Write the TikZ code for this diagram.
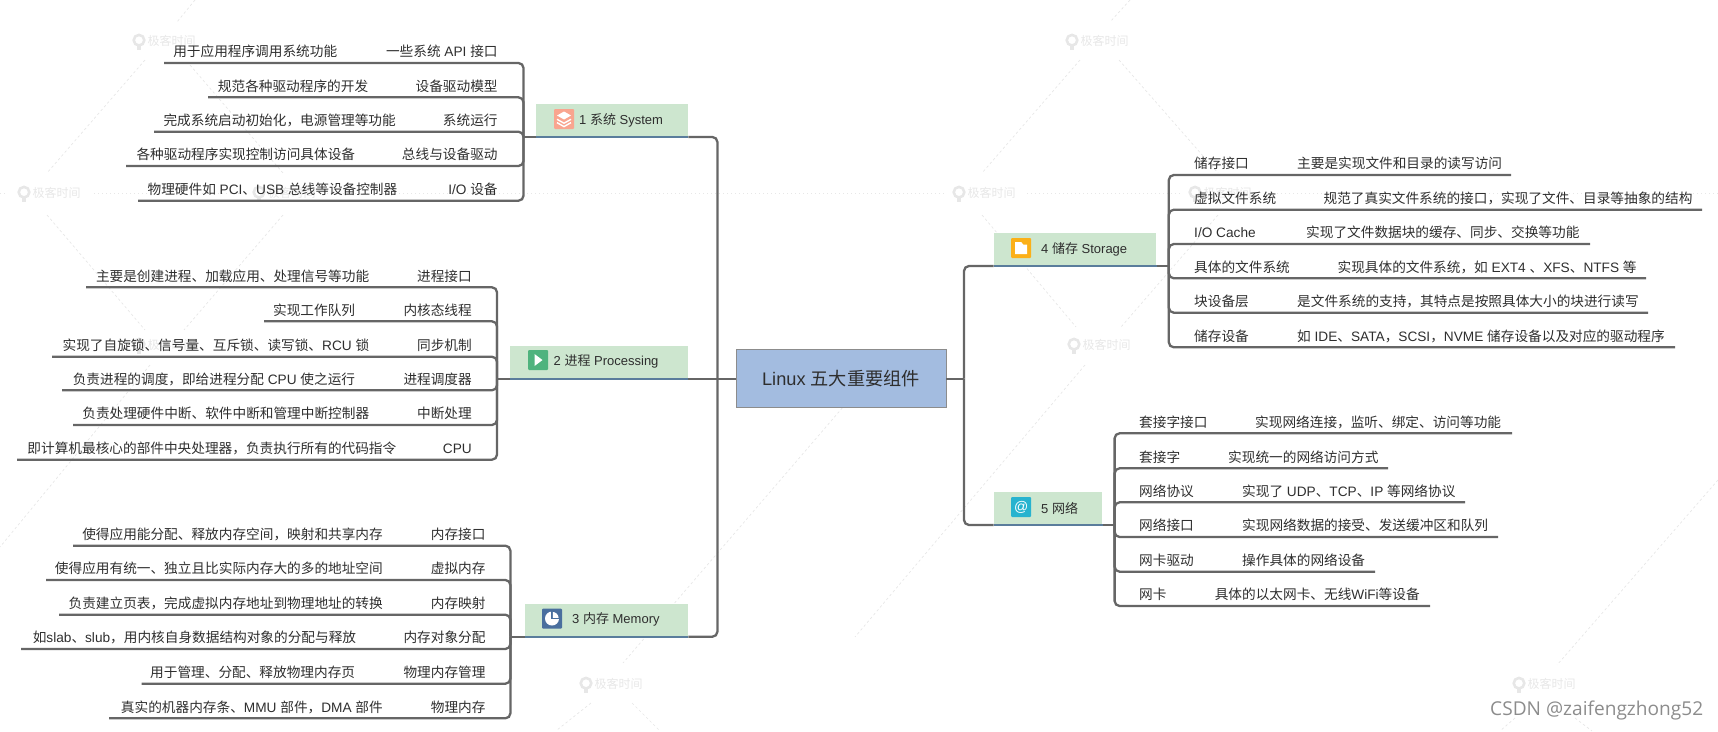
\documentclass[tikz,border=0pt]{standalone}
\usepackage{fontspec}
\setmainfont{Liberation Sans}
\newfontfamily\cjkf{Noto Sans CJK SC}
\newfontfamily\csdnf{Open Sans}
\newXeTeXintercharclass\CJKcl
\newcount\cc
\cc="3000 \loop \XeTeXcharclass\cc=\CJKcl \advance\cc 1 \ifnum\cc<"3040 \repeat
\cc="4E00 \loop \XeTeXcharclass\cc=\CJKcl \advance\cc 1 \ifnum\cc<"A000 \repeat
\cc="FF00 \loop \XeTeXcharclass\cc=\CJKcl \advance\cc 1 \ifnum\cc<"FFF0 \repeat
\XeTeXinterchartoks 0 \CJKcl={\begingroup\cjkf}
\XeTeXinterchartoks 4095 \CJKcl={\begingroup\cjkf}
\XeTeXinterchartoks \CJKcl 0={\endgroup}
\XeTeXinterchartoks \CJKcl 4095={\endgroup}
\XeTeXinterchartokenstate=1
\definecolor{txt}{HTML}{2E2E2E}
\definecolor{lin}{HTML}{666666}
\definecolor{catg}{HTML}{CDE6CF}
\definecolor{catl}{HTML}{5A7D9C}
\definecolor{cen}{HTML}{A3BCE0}
\definecolor{wm}{HTML}{E7E7E7}
\definecolor{pieblue}{RGB}{74,111,158}
\tikzset{
  rowtext/.style={inner sep=0pt,text=txt,font=\fontsize{13.66}{15}\selectfont},
  cattext/.style={inner sep=0pt,anchor=west,text=txt,font=\fontsize{13}{15}\selectfont},
  branch/.style={draw=lin,line width=2.3pt,rounded corners=5pt},
  catbox/.style={inner sep=0pt,fill=catg,anchor=south west,minimum height=33pt},
  catline/.style={draw=catl,line width=2.3pt},
  iconbox/.style={inner sep=0pt,minimum size=20pt,rounded corners=1pt},
  wmtext/.style={inner sep=0pt,anchor=west,text=wm,font=\fontsize{12}{14}\selectfont},
  wmline/.style={draw=wm,line width=0.7pt,dash pattern=on 2.5pt off 2.5pt},
  wmdots/.style={draw=wm,line width=0.9pt,dash pattern=on 1pt off 3pt},
}
% id, line y, left end x, label right x, desc right x, label, desc
\newcommand{\rowL}[7]{%
  \coordinate (#1e) at (#3,#2);
  \node[rowtext,anchor=base east] (#1l) at (#4,#2-6.3) {#6};
  \node[rowtext,anchor=base east] (#1d) at (#5,#2-6.3) {#7};
  \draw[branch] (\jun) |- (#1e);
}
% id, line y, right end x, label left x, desc left x, label, desc
\newcommand{\rowR}[7]{%
  \coordinate (#1e) at (#3,#2);
  \node[rowtext,anchor=base west] (#1l) at (#4,#2-6.3) {#6};
  \node[rowtext,anchor=base west] (#1d) at (#5,#2-6.3) {#7};
  \draw[branch] (\jun) |- (#1e);
}
% id, logo left x, centre y
\newcommand{\wmark}[3]{%
  \node[wmtext] (#1) at (#2+15.5,#3) {极客时间};
  \draw[wm,line width=2.6pt] ($(#1.west)+(-8.5,-0.8)$) circle[radius=5.3pt];
  \fill[wm] ($(#1.west)+(-10.5,5)$) rectangle ($(#1.west)+(-6.5,8.5)$);
}
\usetikzlibrary{calc}
\begin{document}
\begin{tikzpicture}[x=1pt,y=-1pt]
\useasboundingbox (0,0) rectangle (1718,731);
% ---------- watermark lattice
\foreach \a/\b/\c/\d in {195/0/177/22,145/60/47/173,190/65/283/173,47/215/145/330,283/215/184/330,150/365/0/547,
  862/385/623/663,591/703/557/730,632/703/659/730,
  1130/0/1110/22,1080/60/982/173,1119/60/1218/173,982/215/1076/327,1218/215/1121/327,
  1085/365/855/637,1718/480/1557/665,1515/718/1500/731,1575/718/1592/731}
  {\draw[wmline] (\a,\b) -- (\c,\d);}
\foreach \a/\b in {0/8,94/240,327/945,1027/1180,1265/1718}
  {\draw[wmdots] (\a,193) -- (\b,193);}
\wmark{w1}{132}{41}
\wmark{w2}{1065}{41}
\wmark{w3}{17}{193}
\wmark{w4}{252}{193}
\wmark{w5}{952}{193}
\wmark{w6}{1188}{193}
\wmark{w7}{132}{345}
\wmark{w8}{1067}{345}
\wmark{w9}{579}{684}
\wmark{w10}{1512}{684}
% ---------- centre
\node[inner sep=0pt,fill=cen,draw=black!45,line width=0.8pt,minimum width=210pt,minimum height=58pt,anchor=center,
  text=txt,font=\fontsize{18.2}{20}\selectfont] (cn) at (841,378.7) {Linux 五大重要组件};
% ---------- category boxes
\node[catbox,minimum width=152pt] (b1) at (536,137) {};
\node[catbox,minimum width=178pt] (b2) at (510,378.7) {};
\node[catbox,minimum width=163.5pt] (b3) at (524.5,636.7) {};
\node[catbox,minimum width=162.5pt] (b4) at (993.7,266) {};
\node[catbox,minimum width=108.5pt] (b5) at (993.7,525) {};
\node[cattext] (t1) at (579,120) {1 系统 System};
\node[cattext] (t2) at (553.5,361) {2 进程 Processing};
\node[cattext] (t3) at (572,619.5) {3 内存 Memory};
\node[cattext] (t4) at (1041,249) {4 储存 Storage};
\node[cattext] (t5) at (1041,508) {5 网络};
% ---------- icons
\node[iconbox,fill={rgb,255:red,249;green,165;blue,143}] (i1) at (564,119) {};
\fill[white] ($(i1)+(0,-7.5)$) -- ($(i1)+(7,-3.5)$) -- ($(i1)+(0,0.5)$) -- ($(i1)+(-7,-3.5)$) -- cycle;
\draw[white,line width=1.4pt] ($(i1)+(-7,0.3)$) -- ($(i1)+(0,4.2)$) -- ($(i1)+(7,0.3)$);
\draw[white,line width=1.4pt] ($(i1)+(-7,3.6)$) -- ($(i1)+(0,7.6)$) -- ($(i1)+(7,3.6)$);
\node[iconbox,fill={rgb,255:red,79;green,179;blue,126}] (i2) at (538,360) {};
\fill[white] ($(i2)+(-3.5,-6)$) -- ($(i2)+(4.5,0)$) -- ($(i2)+(-3.5,6)$) -- cycle;
\node[iconbox,fill=pieblue] (i3) at (552,618.5) {};
\fill[white] (i3.center) circle[radius=7pt];
\fill[pieblue] ($(i3)+(-0.6,0.6)$) rectangle ($(i3)+(8,-8)$);
\begin{scope}
  \clip ($(i3)+(0.8,-0.8)$) rectangle ($(i3)+(8,-8)$);
  \fill[white] ($(i3)+(0.4,-0.4)$) circle[radius=6.2pt];
\end{scope}
\node[iconbox,fill={rgb,255:red,251;green,176;blue,24}] (i4) at (1021.2,248) {};
\fill[white] ($(i4)+(-6,-6)$) -- ($(i4)+(0,-6)$) -- ($(i4)+(2,-3.5)$) -- ($(i4)+(6,-3.5)$) -- ($(i4)+(6,6)$) -- ($(i4)+(-6,6)$) -- cycle;
\node[iconbox,fill={rgb,255:red,39;green,179;blue,207},text=white,font=\fontsize{14}{16}\selectfont] (i5) at (1021.2,507) {@};
% ---------- main connectors
\coordinate (m1) at (717.4,378.7);
\coordinate (m2) at (964,378.7);
\draw[branch] (cn.west) -- (m1);
\draw[branch] (cn.east) -- (m2);
\draw[branch] (m1) |- (b1.south east);
\draw[branch] (m1) -- (b2.south east);
\draw[branch] (m1) |- (b3.south east);
\draw[branch] (m2) |- (b4.south west);
\draw[branch] (m2) |- (b5.south west);
\foreach \n in {b1,b2,b3,b4,b5} {\draw[catline] (\n.south west) -- (\n.south east);}
% ---------- branch 1
\coordinate (s1) at (523.5,137);
\draw[branch] (b1.south west) -- (s1);
\def\jun{s1}
\rowL{a1}{63}{164}{497.8}{337.4}{一些系统 API 接口}{用于应用程序调用系统功能}
\rowL{a2}{97.3}{208}{497.8}{368.4}{设备驱动模型}{规范各种驱动程序的开发}
\rowL{a3}{131.7}{154}{497.8}{396}{系统运行}{完成系统启动初始化，电源管理等功能}
\rowL{a4}{166}{126}{497.8}{355.3}{总线与设备驱动}{各种驱动程序实现控制访问具体设备}
\rowL{a5}{200.7}{138}{497.8}{397.5}{I/O 设备}{物理硬件如 PCI、USB 总线等设备控制器}
% ---------- branch 2
\coordinate (s2) at (497,378.7);
\draw[branch] (b2.south west) -- (s2);
\def\jun{s2}
\rowL{c1}{287.3}{86}{472}{369.4}{进程接口}{主要是创建进程、加载应用、处理信号等功能}
\rowL{c2}{321.3}{264}{472}{355.3}{内核态线程}{实现工作队列}
\rowL{c3}{356.7}{52}{472}{369.4}{同步机制}{实现了自旋锁、信号量、互斥锁、读写锁、RCU 锁}
\rowL{c4}{390.3}{62}{472}{355.3}{进程调度器}{负责进程的调度，即给进程分配 CPU 使之运行}
\rowL{c5}{425}{73}{472}{369.4}{中断处理}{负责处理硬件中断、软件中断和管理中断控制器}
\rowL{c6}{459.7}{17}{472}{396.5}{CPU}{即计算机最核心的部件中央处理器，负责执行所有的代码指令}
% ---------- branch 3
\coordinate (s3) at (510.4,636.7);
\draw[branch] (b3.south west) -- (s3);
\def\jun{s3}
\rowL{d1}{545.7}{73}{485.7}{383}{内存接口}{使得应用能分配、释放内存空间，映射和共享内存}
\rowL{d2}{580}{46}{485.7}{383}{虚拟内存}{使得应用有统一、独立且比实际内存大的多的地址空间}
\rowL{d3}{614.7}{59}{485.7}{383}{内存映射}{负责建立页表，完成虚拟内存地址到物理地址的转换}
\rowL{d4}{649}{21}{485.7}{356.3}{内存对象分配}{如slab、slub，用内核自身数据结构对象的分配与释放}
\rowL{d5}{683.7}{141.5}{485.7}{355.3}{物理内存管理}{用于管理、分配、释放物理内存页}
\rowL{d6}{718.3}{109}{485.7}{383}{物理内存}{真实的机器内存条、MMU 部件，DMA 部件}
% ---------- branch 4
\coordinate (s4) at (1168.8,266);
\draw[branch] (b4.south east) -- (s4);
\def\jun{s4}
\rowR{e1}{175}{1511}{1194}{1297}{储存接口}{主要是实现文件和目录的读写访问}
\rowR{e2}{209.7}{1702}{1194}{1323.4}{虚拟文件系统}{规范了真实文件系统的接口，实现了文件、目录等抽象的结构}
\rowR{e3}{244}{1590}{1194}{1306}{I/O Cache}{实现了文件数据块的缓存、同步、交换等功能}
\rowR{e4}{278.3}{1646}{1194}{1337.4}{具体的文件系统}{实现具体的文件系统，如 EXT4 、XFS、NTFS 等}
\rowR{e5}{312.7}{1648}{1194}{1297}{块设备层}{是文件系统的支持，其特点是按照具体大小的块进行读写}
\rowR{e6}{347.3}{1675}{1194}{1297}{储存设备}{如 IDE、SATA，SCSI，NVME 储存设备以及对应的驱动程序}
% ---------- branch 5
\coordinate (s5) at (1114.6,525);
\draw[branch] (b5.south east) -- (s5);
\def\jun{s5}
\rowR{f1}{433.3}{1512}{1139}{1255}{套接字接口}{实现网络连接，监听、绑定、访问等功能}
\rowR{f2}{468.3}{1388}{1139}{1228}{套接字}{实现统一的网络访问方式}
\rowR{f3}{502.3}{1465}{1139}{1242}{网络协议}{实现了 UDP、TCP、IP 等网络协议}
\rowR{f4}{537}{1498}{1139}{1242}{网络接口}{实现网络数据的接受、发送缓冲区和队列}
\rowR{f5}{571.7}{1375}{1139}{1242}{网卡驱动}{操作具体的网络设备}
\rowR{f6}{606}{1430}{1139}{1214.6}{网卡}{具体的以太网卡、无线WiFi等设备}
% ---------- credit
\node[inner sep=0pt,anchor=west,text=black!45,font=\csdnf\fontsize{19.1}{22}\selectfont] (csdn) at (1490,710.5) {CSDN @zaifengzhong52};
\end{tikzpicture}
\end{document}
